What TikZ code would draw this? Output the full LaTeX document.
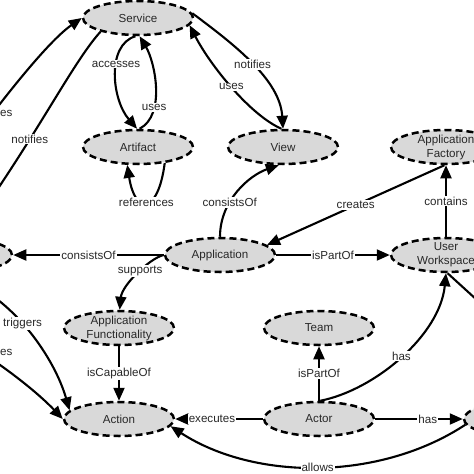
\documentclass[tikz,border=0pt]{standalone}
\usepackage{fontspec}
\setmainfont{Liberation Sans}
\usetikzlibrary{shapes.geometric,arrows.meta}
\definecolor{entfill}{RGB}{217,217,217}
\definecolor{txt}{RGB}{40,40,40}
\begin{document}
\begin{tikzpicture}[x=1pt,y=1pt,
  ent/.style={ellipse, draw=black, fill=entfill, line width=2.5pt,
    dash pattern=on 7pt off 4pt, minimum width=110pt, minimum height=34pt,
    inner xsep=0pt, inner ysep=-3pt, align=center,
    font=\fontsize{11.6}{14}\selectfont, text=txt},
  arr/.style={line width=2.1pt, -{Triangle[length=13pt,width=11pt]}},
  ln/.style={line width=2.1pt},
  lbl/.style={fill=white, inner sep=1pt, font=\fontsize{11.6}{14}\selectfont, text=txt}]
\useasboundingbox (0,0) rectangle (474,-474);
\clip (0,0) rectangle (474,-474);
% entities
\node[ent] (Service) at (138,-18) {Service};
\node[ent] (Artifact) at (138,-147) {Artifact};
\node[ent] (View) at (283,-147) {View};
\node[ent] (AF) at (446,-147) {Application\\Factory};
\node[ent] (App) at (220,-255) {Application};
\node[ent] (UW) at (446,-255) {User\\Workspace};
\node[ent] (LM) at (-43,-255) {};
\node[ent] (AFun) at (119,-328) {Application\\Functionality};
\node[ent] (Team) at (319,-328) {Team};
\node[ent] (Action) at (119,-419) {Action};
\node[ent] (Actor) at (319,-419) {Actor};
\node[ent] (RB) at (519,-419) {};
% off-screen ends
\coordinate (LT1) at (-20,-130);
\coordinate (LT2) at (-20,-215);
\coordinate (LB1) at (-20,-288);
\coordinate (LB2) at (-30,-345);
\coordinate (OffR) at (500,-321);
% edges
\draw[arr] (Service.-98) .. controls (106,-45) and (112,-100) .. node[lbl,pos=0.4]{accesses} (Artifact.93);
\draw[arr] (Artifact.85) .. controls (166,-115) and (155,-62) .. node[lbl,pos=0.3]{uses} (Service.-85);
\draw[arr] (Artifact.-31) .. controls (158,-215) and (135,-215) .. node[lbl,pos=0.5]{references} (Artifact.-121);
\draw[arr] (Service.5) .. controls (235,-45) and (280,-80) .. node[lbl,pos=0.5]{notifies} (View.north);
\draw[arr] (View.95) .. controls (250,-115) and (210,-65) .. node[lbl,pos=0.5]{uses} (Service.-8);
\draw[arr] (App.north) .. controls (220,-200) and (250,-175) .. node[lbl,pos=0.35]{consistsOf} (View.-103);
\draw[arr] (AF.-95) -- node[lbl,pos=0.5]{creates} (App.12);
\draw[arr] (UW.north) -- node[lbl]{contains} (AF.south);
\draw[arr] (App.west) -- node[lbl]{consistsOf} (LM.east);
\draw[arr] (App.west) .. controls (150,-258) and (122,-285) .. node[lbl,pos=0.45]{supports} (AFun.88);
\draw[arr] (App.east) -- node[lbl]{isPartOf} (UW.west);
\draw[arr] (AFun.south) -- node[lbl]{isCapableOf} (Action.north);
\draw[arr] (Actor.west) -- node[lbl,pos=0.58]{executes} (Action.east);
\draw[arr] (Actor.north) -- node[lbl]{isPartOf} (Team.south);
\draw[arr] (Actor.86) .. controls (375,-390) and (440,-335) .. node[lbl,pos=0.5]{has} (UW.south);
\draw[arr] (Actor.east) -- node[lbl,pos=0.6]{has} (RB.west);
\draw[arr] (RB.186) .. controls (380,-481) and (255,-481) .. node[lbl,pos=0.5]{allows} (Action.-8);
\draw[ln] (UW.-85) -- (OffR);
\draw[arr] (LT1) .. controls (10,-90) and (50,-40) .. (Service.west);
\draw[arr] (Service.200) .. controls (75,-60) and (45,-120) .. node[lbl,pos=0.7]{notifies} (LT2);
\draw[arr] (LB1) .. controls (20,-310) and (55,-360) .. node[lbl,pos=0.38]{triggers} (Action.170);
\draw[arr] (LB2) .. controls (10,-370) and (40,-395) .. (Action.west);
\node[lbl, anchor=west, inner xsep=0pt] (esA) at (0,-113) {es};
\node[lbl, anchor=west, inner xsep=0pt] (esB) at (0,-352) {es};
\end{tikzpicture}
\end{document}
